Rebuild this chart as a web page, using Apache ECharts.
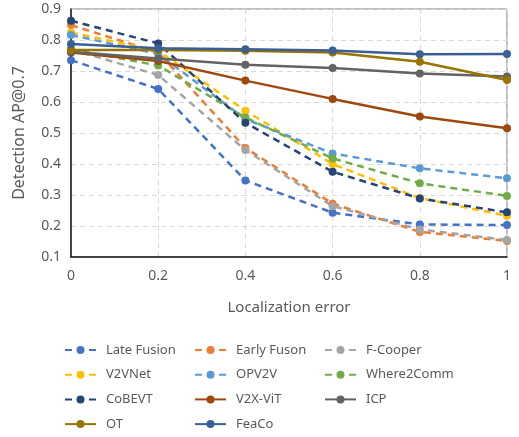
<!DOCTYPE html>
<html>
<head>
<meta charset="utf-8">
<script src="https://cdn.jsdelivr.net/npm/echarts@6/dist/echarts.min.js"></script>
<style>
  html, body {margin: 0; padding: 0; background: #fff;}
  #chart {width: 519px; height: 437px;}
</style>
</head>
<body>
<div id="chart"></div>
<script>
// Detection AP@0.7 versus localization error, one line per method.

const errors = [0, 0.2, 0.4, 0.6, 0.8, 1]

const lateFusion = [0.735, 0.642, 0.347, 0.243, 0.205, 0.203]
const earlyFusion = [0.848, 0.76, 0.452, 0.272, 0.181, 0.152]
const fCooper = [0.77, 0.687, 0.445, 0.264, 0.189, 0.155]
const v2vnet = [0.824, 0.765, 0.572, 0.4, 0.29, 0.233]
const opv2v = [0.816, 0.755, 0.545, 0.434, 0.386, 0.354]
const where2comm = [0.77, 0.718, 0.55, 0.418, 0.338, 0.297]
const cobevt = [0.862, 0.789, 0.533, 0.375, 0.289, 0.244]
const v2xvit = [0.76, 0.732, 0.669, 0.61, 0.553, 0.515]
const icp = [0.762, 0.74, 0.72, 0.71, 0.692, 0.682]
const ot = [0.768, 0.768, 0.765, 0.76, 0.73, 0.671]
const feaco = [0.787, 0.773, 0.77, 0.766, 0.754, 0.755]

const yTicks = [0.1, 0.2, 0.3, 0.4, 0.5, 0.6, 0.7, 0.8, 0.9]

const METHODS = [
  {name: "Late Fusion", values: lateFusion, color: "#4472C4", dashed: true},
  {name: "Early Fuson", values: earlyFusion, color: "#ED7D31", dashed: true},
  {name: "F-Cooper", values: fCooper, color: "#A5A5A5", dashed: true},
  {name: "V2VNet", values: v2vnet, color: "#FFC000", dashed: true},
  {name: "OPV2V", values: opv2v, color: "#5B9BD5", dashed: true},
  {name: "Where2Comm", values: where2comm, color: "#70AD47", dashed: true},
  {name: "CoBEVT", values: cobevt, color: "#264478", dashed: true},
  {name: "V2X-ViT", values: v2xvit, color: "#9E480E", dashed: false},
  {name: "ICP", values: icp, color: "#636363", dashed: false},
  {name: "OT", values: ot, color: "#997300", dashed: false},
  {name: "FeaCo", values: feaco, color: "#3A5F95", dashed: false},
]

const TEXT = "#595959"
const FONT = "Noto Sans"

// legend laid out as a 3-column grid, one legend component per entry
function legendEntry(name, i) {
  const col = i % 3
  const row = Math.floor(i / 3)
  return {
    data: [name],
    left: 64 + col * 130,
    top: 343.5 + row * 24.7,
    padding: 0,
    itemWidth: 31,
    itemHeight: 10,
    textStyle: {color: TEXT, fontSize: 13, fontFamily: FONT, padding: [0, 0, 0, 5]},
  }
}

const option = {
  backgroundColor: "#fff",
  animation: false,
  textStyle: {fontFamily: FONT},
  grid: {
    left: 71, right: 12, top: 9, bottom: 180,
    show: true, borderColor: "#7f7f7f", borderWidth: 1,
  },
  xAxis: {
    type: "value",
    min: 0,
    max: 1,
    interval: 0.2,
    name: "Localization error",
    nameLocation: "middle",
    nameGap: 43,
    nameTextStyle: {color: TEXT, fontSize: 15, fontFamily: FONT},
    axisLine: {lineStyle: {color: "#1a1a1a", width: 1.5}},
    axisTick: {show: false},
    axisLabel: {color: TEXT, fontSize: 14, margin: 12, fontFamily: FONT},
    splitLine: {lineStyle: {color: "#d9d9d9", type: [5, 4], width: 1}},
  },
  yAxis: {
    type: "value",
    min: yTicks[0],
    max: yTicks[yTicks.length - 1],
    interval: 0.1,
    name: "Detection AP@0.7",
    nameLocation: "middle",
    nameGap: 44,
    nameTextStyle: {color: TEXT, fontSize: 16, fontFamily: FONT},
    axisLine: {show: true, lineStyle: {color: "#1a1a1a", width: 1.5}},
    axisTick: {show: false},
    axisLabel: {
      color: TEXT, fontSize: 14, margin: 10, fontFamily: FONT,
      formatter: v => (Math.round(v * 10) / 10).toFixed(1),
    },
    splitLine: {lineStyle: {color: "#d9d9d9", type: [5, 4], width: 1}},
  },
  legend: METHODS.map((m, i) => legendEntry(m.name, i)),
  series: METHODS.map(m => ({
    name: m.name,
    type: "line",
    data: errors.map((x, i) => [x, m.values[i]]),
    symbol: "circle",
    symbolSize: 8,
    showSymbol: true,
    lineStyle: {color: m.color, width: 2.5, type: m.dashed ? [7, 5] : "solid"},
    itemStyle: {color: m.color},
    emphasis: {disabled: true},
  })),
}

const chart = echarts.init(document.getElementById("chart"), null, {renderer: "canvas"})
chart.setOption(option)
</script>
</body>
</html>
